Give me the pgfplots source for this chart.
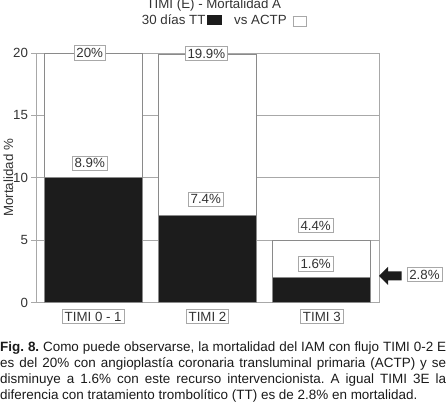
\documentclass[border=0pt]{standalone}
\usepackage{pgfplots}
\pgfplotsset{compat=1.18}
\usepackage{fontspec}
\setmainfont{Liberation Sans}
\frenchspacing
\definecolor{bargray}{HTML}{8A8A8A}
\definecolor{gridgray}{HTML}{A8A8A8}
\definecolor{txt}{HTML}{333333}
\definecolor{captxt}{HTML}{1A1A1A}
\definecolor{barblack}{HTML}{1C1C1C}
\newcommand\cf{\fontsize{13.3}{16}\selectfont}
\newcommand\capf{\fontsize{13.45}{15.7}\selectfont}
\begin{document}
\begin{tikzpicture}[x=1pt,y=1pt]
\useasboundingbox (0,0) rectangle (446,406);
\tikzset{vl/.style={draw=gridgray, fill=white, line width=0.8pt, inner sep=2.4pt, font=\cf, text=txt}}
\begin{axis}[
  at={(36pt,103.3pt)}, anchor=south west,
  scale only axis, width=343pt, height=249.7pt,
  xmin=-0.5, xmax=2.5, ymin=0, ymax=20,
  ybar stacked, bar width=98pt,
  ytick={0,5,10,15,20},
  xtick={0,1,2}, xticklabels={TIMI 0 - 1, TIMI 2, TIMI 3},
  ymajorgrids, grid style={gridgray, line width=0.8pt},
  axis line style={gridgray, line width=0.8pt},
  tick align=outside, major tick length=4.5pt,
  ytick style={gridgray, line width=0.8pt},
  xtick style={draw=none},
  ytick pos=left, xtick pos=bottom,
  /pgf/number format/assume math mode=true,
  ticklabel style={font=\cf, text=txt},
  xticklabel style={draw=gridgray, fill=white, inner sep=2.4pt, line width=0.8pt, yshift=-2pt},
  ylabel={Mortalidad \%},
  every axis y label/.style={at={(axis description cs:-0.067,0.5)}, rotate=90, anchor=base, font=\cf, text=txt},
  clip=false,
]
\addplot[fill=barblack, draw=bargray, line width=0.8pt] coordinates {(0,10) (1,7) (2,2)};
\addplot[fill=white, draw=bargray, line width=0.8pt] coordinates {(0,10) (1,12.9) (2,3)};
\coordinate (a1) at (axis cs:-0.03,20);
\coordinate (a2) at (axis cs:-0.03,11.17);
\coordinate (b1) at (axis cs:0.99,19.95);
\coordinate (b2) at (axis cs:0.985,8.28);
\coordinate (c1) at (axis cs:1.946,6.17);
\coordinate (c2) at (axis cs:1.946,3.1);
\coordinate (d1) at (axis cs:2.898,2.25);
\coordinate (tip) at (axis cs:2.5,2.14);
\end{axis}
\node[vl] at (a1) {20\%};
\node[vl] at (a2) {8.9\%};
\node[vl] at (b1) {19.9\%};
\node[vl] at (b2) {7.4\%};
\node[vl] at (c1) {4.4\%};
\node[vl] at (c2) {1.6\%};
\node[vl] at (d1) {2.8\%};
\fill[barblack] (tip) -- ++(9,9) -- ++(0,-4.5) -- ++(13.5,0) -- ++(0,-9) -- ++(-13.5,0) -- ++(0,-4.5) -- cycle;
\node[anchor=base, font=\cf, text=txt, inner sep=0] at (213.8,397) {TIMI (E) - Mortalidad A};
\node[anchor=base west, font=\cf, text=txt, inner sep=0] at (141.7,381) {30 días TT\hspace{1.7pt}\textcolor{barblack}{\rule{15pt}{9.5pt}}\hspace{12pt}vs ACTP\hspace{6pt}{\setlength\fboxsep{0pt}\setlength\fboxrule{0.8pt}\raisebox{-1pt}{\fcolorbox{gridgray}{white}{\rule{0pt}{9pt}\rule{13pt}{0pt}}}}};
\node[anchor=base west, font=\capf, text=captxt, inner sep=0] at (0,54) {\makebox[446pt][s]{\textbf{Fig. 8.} Como puede observarse, la mortalidad del IAM con flujo TIMI 0-2 E}};
\node[anchor=base west, font=\capf, text=captxt, inner sep=0] at (0,38.3) {\makebox[446pt][s]{es del 20\% con angioplastía coronaria transluminal primaria (ACTP) y se}};
\node[anchor=base west, font=\capf, text=captxt, inner sep=0] at (0,22.6) {\makebox[446pt][s]{disminuye a 1.6\% con este recurso intervencionista. A igual TIMI 3E la}};
\node[anchor=base west, font=\capf, text=captxt, inner sep=0] at (0,6.9) {diferencia con tratamiento trombolítico (TT) es de 2.8\% en mortalidad.};
\end{tikzpicture}
\end{document}
